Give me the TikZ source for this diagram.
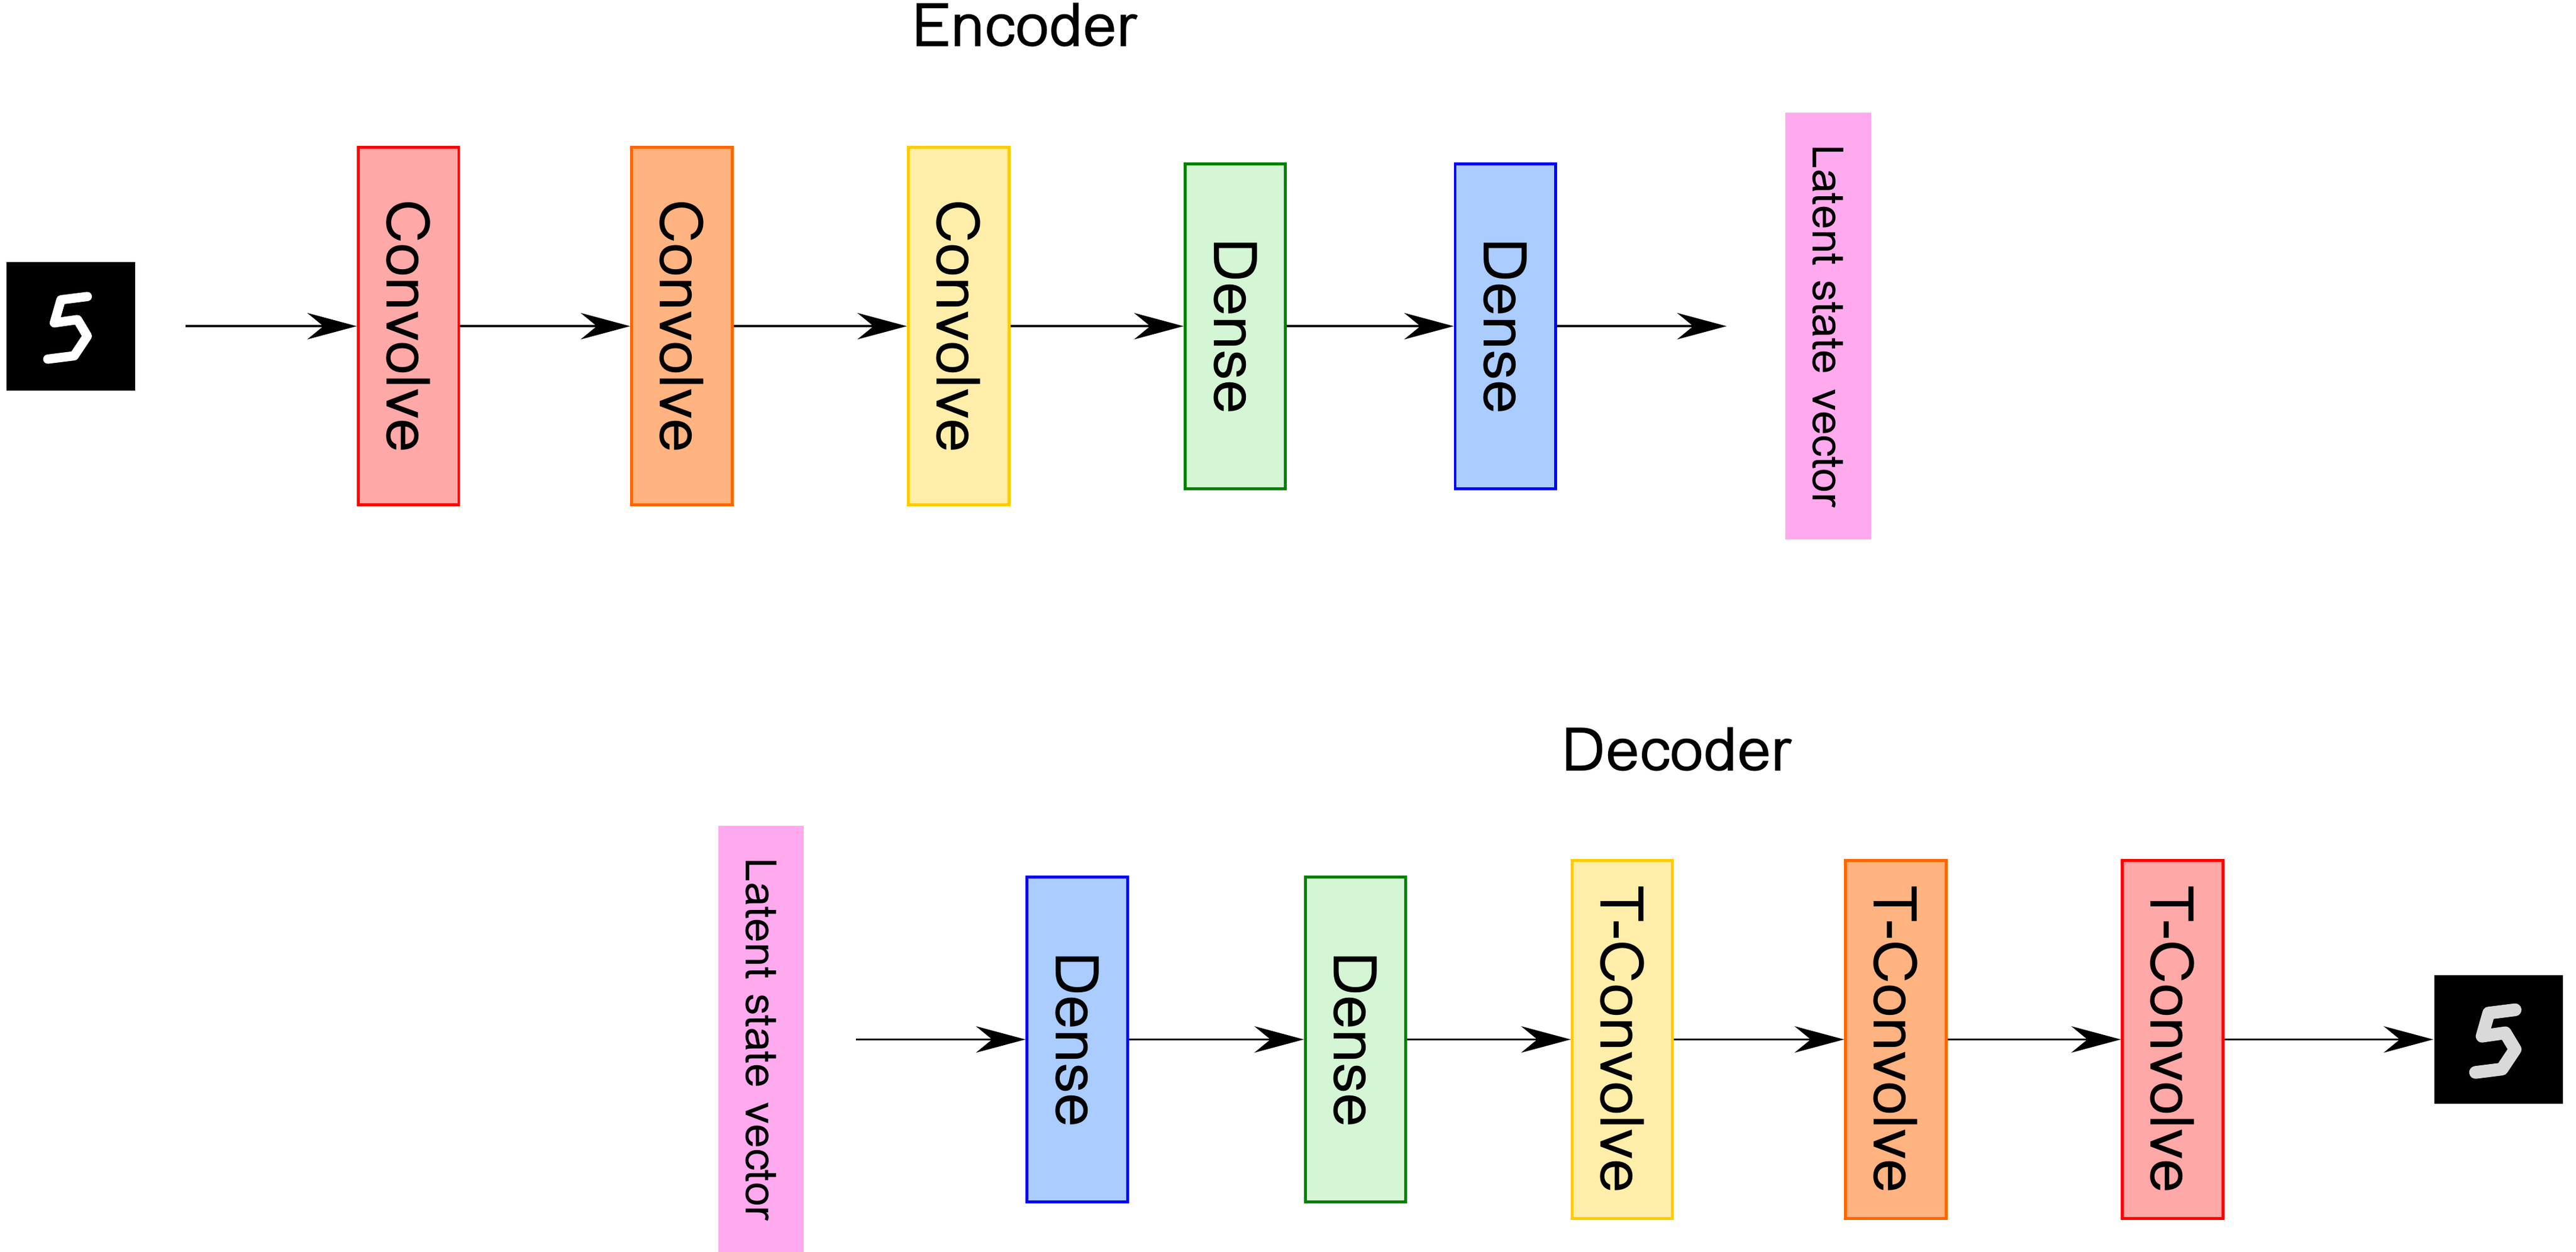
\documentclass[tikz,border=0pt]{standalone}
\usepackage{fontspec}
\setmainfont{Loma}
\usetikzlibrary{arrows.meta,positioning,calc}
\definecolor{redf}{HTML}{FFA8A8}
\definecolor{orangef}{HTML}{FFB380}
\definecolor{oranged}{HTML}{FF6600}
\definecolor{yellowf}{HTML}{FFEEAA}
\definecolor{yellowd}{HTML}{FFCC00}
\definecolor{greenf}{HTML}{D5F6D5}
\definecolor{greend}{HTML}{008000}
\definecolor{bluef}{HTML}{AACCFF}
\definecolor{pinkf}{HTML}{FFAAEE}
\begin{document}
\begin{tikzpicture}[x=0.01cm,y=-0.01cm,>={Stealth[length=3mm,width=1.6mm]}]
    \tikzstyle{layer}=[rectangle,draw,line width=0.5pt,minimum width=0.61cm,inner sep=0pt,font=\fontsize{10.5}{12}\selectfont]
    \tikzstyle{latent}=[rectangle,fill=pinkf,minimum width=0.52cm,minimum height=2.59cm,inner sep=0pt,font=\fontsize{7.5}{9}\selectfont]
    \tikzstyle{digit}=[rectangle,fill=black,minimum size=0.78cm]
    \tikzstyle{title}=[font=\fontsize{10.5}{12}\selectfont]
    \useasboundingbox (0,0) rectangle (1564,760);
    % encoder
    \node[title] at (622,15) {Encoder};
    \node[digit] (in) at (43,198) {};
    \draw[white,line width=1.6pt,line cap=round,line join=round] ($(in)+(10,-18)$) -- ($(in)+(-6,-16)$) -- ($(in)+(-10,-2)$) -- ($(in)+(4,-4)$) -- ($(in)+(10,6)$) -- ($(in)+(2,18)$) -- ($(in)+(-14,20)$);
    \node[layer,fill=redf,draw=red,minimum height=2.17cm] (c1) at (248,198) {\rotatebox{-90}{Convolve}};
    \node[layer,fill=orangef,draw=oranged,minimum height=2.17cm] (c2) at (414,198) {\rotatebox{-90}{Convolve}};
    \node[layer,fill=yellowf,draw=yellowd,minimum height=2.17cm] (c3) at (582,198) {\rotatebox{-90}{Convolve}};
    \node[layer,fill=greenf,draw=greend,minimum height=1.97cm] (d1) at (750,198) {\rotatebox{-90}{Dense}};
    \node[layer,fill=bluef,draw=blue,minimum height=1.97cm] (d2) at (914,198) {\rotatebox{-90}{Dense}};
    \node[latent] (lat) at (1110,198) {\rotatebox{-90}{Latent state vector}};
    \draw[->] ($(in.east)+(30,0)$) -- (c1);
    \draw[->] (c1) -- (c2);
    \draw[->] (c2) -- (c3);
    \draw[->] (c3) -- (d1);
    \draw[->] (d1) -- (d2);
    \draw[->] (d2) -- ($(lat.west)+(-35,0)$);
    % decoder
    \node[title] at (1018,455) {Decoder};
    \node[latent] (lat2) at (462,631) {\rotatebox{-90}{Latent state vector}};
    \node[layer,fill=bluef,draw=blue,minimum height=1.97cm] (e1) at (654,631) {\rotatebox{-90}{Dense}};
    \node[layer,fill=greenf,draw=greend,minimum height=1.97cm] (e2) at (823,631) {\rotatebox{-90}{Dense}};
    \node[layer,fill=yellowf,draw=yellowd,minimum height=2.17cm] (t1) at (985,631) {\rotatebox{-90}{T-Convolve}};
    \node[layer,fill=orangef,draw=oranged,minimum height=2.17cm] (t2) at (1151,631) {\rotatebox{-90}{T-Convolve}};
    \node[layer,fill=redf,draw=red,minimum height=2.17cm] (t3) at (1319,631) {\rotatebox{-90}{T-Convolve}};
    \node[digit] (out) at (1517,631) {};
    \draw[white!85!black,line width=2.2pt,line cap=round,line join=round] ($(out)+(10,-18)$) -- ($(out)+(-6,-16)$) -- ($(out)+(-10,-2)$) -- ($(out)+(4,-4)$) -- ($(out)+(10,6)$) -- ($(out)+(2,18)$) -- ($(out)+(-14,20)$);
    \draw[->] ($(lat2.east)+(31,0)$) -- (e1);
    \draw[->] (e1) -- (e2);
    \draw[->] (e2) -- (t1);
    \draw[->] (t1) -- (t2);
    \draw[->] (t2) -- (t3);
    \draw[->] (t3) -- (out);
  \end{tikzpicture}
\end{document}
